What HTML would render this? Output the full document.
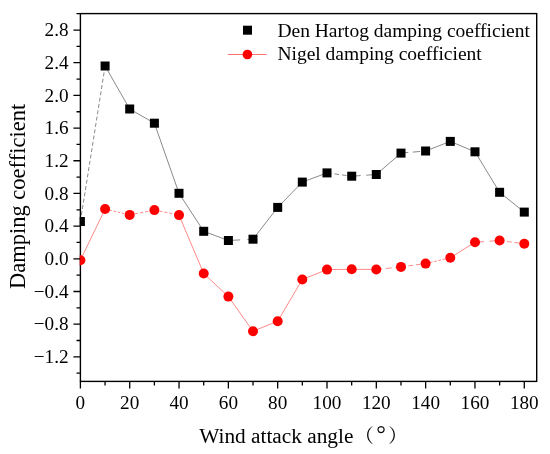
<!DOCTYPE html>
<html lang="en"><head><meta charset="utf-8"><title>Damping coefficient vs wind attack angle</title>
<style>html,body{margin:0;padding:0;background:#fff;}body{width:550px;height:454px;overflow:hidden;}svg{display:block;}text{font-family:"Liberation Serif", "Noto Serif CJK SC", serif;fill:#000;}</style>
</head><body>
<svg width="550" height="454" viewBox="0 0 550 454">
<rect x="0" y="0" width="550" height="454" fill="#fff"/>
<defs><clipPath id="plot"><rect x="79.70" y="13.60" width="457.00" height="367.80"/></clipPath></defs>
<rect x="80.40" y="13.60" width="456.30" height="367.80" fill="none" stroke="#000" stroke-width="1.4"/>
<g clip-path="url(#plot)">
<g fill="none" stroke="#000" stroke-opacity="0.62" stroke-width="0.75"><line x1="80.4" y1="221.5" x2="105.1" y2="66.0" stroke-dasharray="3.96 2.43"/><line x1="105.1" y1="66.0" x2="129.7" y2="109.0"/><line x1="129.7" y1="109.0" x2="154.4" y2="123.2"/><line x1="154.4" y1="123.2" x2="179.0" y2="193.3"/><line x1="179.0" y1="193.3" x2="203.7" y2="231.3"/><line x1="203.7" y1="231.3" x2="228.4" y2="240.5"/><line x1="228.4" y1="240.5" x2="253.0" y2="239.2" stroke-dasharray="11.78 7.22"/><line x1="253.0" y1="239.2" x2="277.7" y2="207.4"/><line x1="277.7" y1="207.4" x2="302.3" y2="182.1"/><line x1="302.3" y1="182.1" x2="327.0" y2="172.9"/><line x1="327.0" y1="172.9" x2="351.7" y2="176.2" stroke-dasharray="4.67 2.86"/><line x1="351.7" y1="176.2" x2="376.3" y2="174.5" stroke-dasharray="9.01 5.53"/><line x1="376.3" y1="174.5" x2="401.0" y2="153.1"/><line x1="401.0" y1="153.1" x2="425.6" y2="151.0" stroke-dasharray="7.31 4.48"/><line x1="425.6" y1="151.0" x2="450.3" y2="141.4"/><line x1="450.3" y1="141.4" x2="475.0" y2="151.8"/><line x1="475.0" y1="151.8" x2="499.6" y2="192.3"/><line x1="499.6" y1="192.3" x2="524.3" y2="212.1"/></g>
<g fill="none" stroke="#ff0000" stroke-opacity="0.62" stroke-width="0.75"><line x1="80.4" y1="260.2" x2="105.1" y2="209.0"/><line x1="105.1" y1="209.0" x2="129.7" y2="214.9" stroke-dasharray="2.66 1.63"/><line x1="129.7" y1="214.9" x2="154.4" y2="210.1" stroke-dasharray="3.25 1.99"/><line x1="154.4" y1="210.1" x2="179.0" y2="215.1" stroke-dasharray="3.12 1.91"/><line x1="179.0" y1="215.1" x2="203.7" y2="273.5"/><line x1="203.7" y1="273.5" x2="228.4" y2="296.6"/><line x1="228.4" y1="296.6" x2="253.0" y2="331.2"/><line x1="253.0" y1="331.2" x2="277.7" y2="321.2"/><line x1="277.7" y1="321.2" x2="302.3" y2="279.5"/><line x1="302.3" y1="279.5" x2="327.0" y2="269.6"/><line x1="327.0" y1="269.6" x2="351.7" y2="269.3"/><line x1="351.7" y1="269.3" x2="376.3" y2="269.5"/><line x1="376.3" y1="269.5" x2="401.0" y2="266.9" stroke-dasharray="5.91 3.62"/><line x1="401.0" y1="266.9" x2="425.6" y2="263.6" stroke-dasharray="4.67 2.86"/><line x1="425.6" y1="263.6" x2="450.3" y2="257.8" stroke-dasharray="2.71 1.66"/><line x1="450.3" y1="257.8" x2="475.0" y2="242.2"/><line x1="475.0" y1="242.2" x2="499.6" y2="240.5" stroke-dasharray="9.01 5.53"/><line x1="499.6" y1="240.5" x2="524.3" y2="243.8" stroke-dasharray="4.67 2.86"/></g>
<rect x="75.9" y="217.0" width="9" height="9" fill="#000"/>
<rect x="100.6" y="61.5" width="9" height="9" fill="#000"/>
<rect x="125.2" y="104.5" width="9" height="9" fill="#000"/>
<rect x="149.9" y="118.7" width="9" height="9" fill="#000"/>
<rect x="174.5" y="188.8" width="9" height="9" fill="#000"/>
<rect x="199.2" y="226.8" width="9" height="9" fill="#000"/>
<rect x="223.9" y="236.0" width="9" height="9" fill="#000"/>
<rect x="248.5" y="234.7" width="9" height="9" fill="#000"/>
<rect x="273.2" y="202.9" width="9" height="9" fill="#000"/>
<rect x="297.8" y="177.6" width="9" height="9" fill="#000"/>
<rect x="322.5" y="168.4" width="9" height="9" fill="#000"/>
<rect x="347.2" y="171.7" width="9" height="9" fill="#000"/>
<rect x="371.8" y="170.0" width="9" height="9" fill="#000"/>
<rect x="396.5" y="148.6" width="9" height="9" fill="#000"/>
<rect x="421.1" y="146.5" width="9" height="9" fill="#000"/>
<rect x="445.8" y="136.9" width="9" height="9" fill="#000"/>
<rect x="470.5" y="147.3" width="9" height="9" fill="#000"/>
<rect x="495.1" y="187.8" width="9" height="9" fill="#000"/>
<rect x="519.8" y="207.6" width="9" height="9" fill="#000"/>
<circle cx="80.4" cy="260.2" r="5" fill="#ff0000"/>
<circle cx="105.1" cy="209.0" r="5" fill="#ff0000"/>
<circle cx="129.7" cy="214.9" r="5" fill="#ff0000"/>
<circle cx="154.4" cy="210.1" r="5" fill="#ff0000"/>
<circle cx="179.0" cy="215.1" r="5" fill="#ff0000"/>
<circle cx="203.7" cy="273.5" r="5" fill="#ff0000"/>
<circle cx="228.4" cy="296.6" r="5" fill="#ff0000"/>
<circle cx="253.0" cy="331.2" r="5" fill="#ff0000"/>
<circle cx="277.7" cy="321.2" r="5" fill="#ff0000"/>
<circle cx="302.3" cy="279.5" r="5" fill="#ff0000"/>
<circle cx="327.0" cy="269.6" r="5" fill="#ff0000"/>
<circle cx="351.7" cy="269.3" r="5" fill="#ff0000"/>
<circle cx="376.3" cy="269.5" r="5" fill="#ff0000"/>
<circle cx="401.0" cy="266.9" r="5" fill="#ff0000"/>
<circle cx="425.6" cy="263.6" r="5" fill="#ff0000"/>
<circle cx="450.3" cy="257.8" r="5" fill="#ff0000"/>
<circle cx="475.0" cy="242.2" r="5" fill="#ff0000"/>
<circle cx="499.6" cy="240.5" r="5" fill="#ff0000"/>
<circle cx="524.3" cy="243.8" r="5" fill="#ff0000"/>
</g>
<path d="M80.40 381.40v7M105.06 381.40v4M129.72 381.40v7M154.38 381.40v4M179.04 381.40v7M203.70 381.40v4M228.36 381.40v7M253.02 381.40v4M277.68 381.40v7M302.34 381.40v4M327.00 381.40v7M351.66 381.40v4M376.32 381.40v7M400.98 381.40v4M425.64 381.40v7M450.30 381.40v4M474.96 381.40v7M499.62 381.40v4M524.28 381.40v7M80.40 373.18h-3.9M80.40 356.84h-7M80.40 340.50h-3.9M80.40 324.16h-7M80.40 307.82h-3.9M80.40 291.48h-7M80.40 275.14h-3.9M80.40 258.80h-7M80.40 242.46h-3.9M80.40 226.12h-7M80.40 209.78h-3.9M80.40 193.44h-7M80.40 177.10h-3.9M80.40 160.76h-7M80.40 144.42h-3.9M80.40 128.08h-7M80.40 111.74h-3.9M80.40 95.40h-7M80.40 79.06h-3.9M80.40 62.72h-7M80.40 46.38h-3.9M80.40 30.04h-7M80.40 13.70h-3.9" fill="none" stroke="#000" stroke-width="1.3"/>
<g font-size="19.2px" text-anchor="middle">
<text x="80.4" y="409">0</text>
<text x="129.7" y="409">20</text>
<text x="179.0" y="409">40</text>
<text x="228.4" y="409">60</text>
<text x="277.7" y="409">80</text>
<text x="327.0" y="409">100</text>
<text x="376.3" y="409">120</text>
<text x="425.6" y="409">140</text>
<text x="475.0" y="409">160</text>
<text x="524.3" y="409">180</text>
</g>
<g font-size="19.2px" text-anchor="end">
<text x="68.6" y="362.9">−1.2</text>
<text x="68.6" y="330.3">−0.8</text>
<text x="68.6" y="297.6">−0.4</text>
<text x="68.6" y="264.9">0.0</text>
<text x="68.6" y="232.2">0.4</text>
<text x="68.6" y="199.5">0.8</text>
<text x="68.6" y="166.9">1.2</text>
<text x="68.6" y="134.2">1.6</text>
<text x="68.6" y="101.5">2.0</text>
<text x="68.6" y="68.8">2.4</text>
<text x="68.6" y="36.1">2.8</text>
</g>
<text x="199.3" y="442.5" font-size="21.3px">Wind attack angle <tspan x="354.7" y="442.9" font-size="19px">（</tspan><tspan x="376.3" y="442.0" font-size="24px">°</tspan><tspan x="388.2" y="442.9" font-size="19px">）</tspan></text>
<text transform="translate(24.6 289.0) rotate(-90)" font-size="22.5px">Damping coefficient</text>
<rect x="243" y="25.7" width="9" height="9" fill="#000"/>
<path d="M227.8 54.5H266.5" stroke="#ff0000" stroke-opacity="0.7" stroke-width="0.8"/>
<circle cx="247.4" cy="54.5" r="4.8" fill="#ff0000"/>
<text x="277.4" y="36.7" font-size="19.5px">Den Hartog damping coefficient</text>
<text x="277.4" y="59.6" font-size="19.5px">Nigel damping coefficient</text>
</svg></body></html>
